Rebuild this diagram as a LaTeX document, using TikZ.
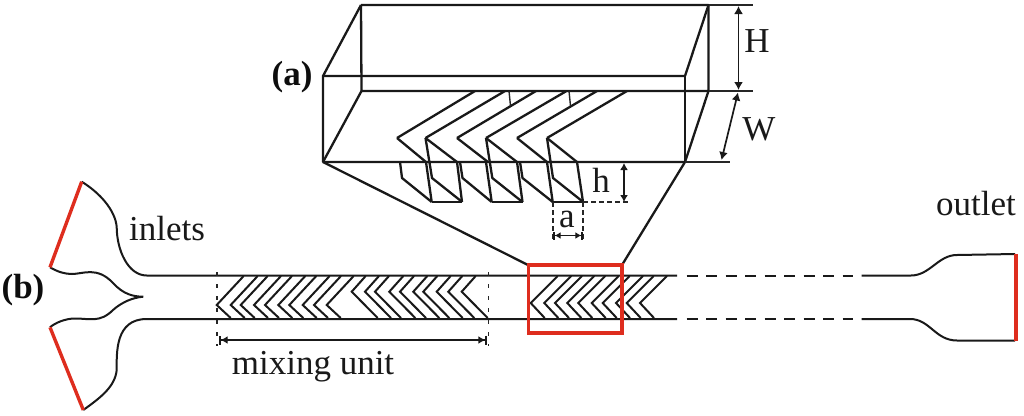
\documentclass[tikz,border=0pt]{standalone}
\usepackage{fontspec}
\setmainfont{Liberation Serif}
\usetikzlibrary{arrows.meta}
\definecolor{redline}{RGB}{222,45,30}
\tikzset{
  boxline/.style={line width=2.3pt,black!90,line join=round},
  thinline/.style={line width=1.4pt,black!85},
  channel/.style={line width=2pt,black!90},
  redbar/.style={line width=3.4pt,redline},
  guide/.style={line width=1.6pt,black!85,dash pattern=on 4pt off 8pt},
  dimtip/.style={line width=1.7pt,black!90},
  lab/.style={font=\fontsize{35}{37}\selectfont,inner sep=0pt,text=black!90},
  blab/.style={font=\fontsize{35}{37}\selectfont\bfseries,inner sep=0pt,text=black!95}
}
\begin{document}
\begin{tikzpicture}[x=1pt,y=-1pt]
\useasboundingbox (0,0) rectangle (1024,415);
% --- (a) box
\draw[boxline] (361,5) -- (708.5,5) -- (708.5,91) -- (361.5,91) -- (361,5);
\draw[boxline] (361,5) -- (323,76) -- (685,76) -- (708.5,5);
\draw[boxline] (323,76) -- (323,162) -- (685,162) -- (708.5,91);
\draw[boxline] (685,76) -- (685,162);
\draw[boxline] (323,162) -- (361.5,91);
% funnel
\draw[boxline] (323,162) -- (528,265);
\draw[boxline] (685,162) -- (622,265);
% ribs
\foreach \tx/\ty in {397/475,425.5/505,457/536,486/566.5,517/597,547/627}{
  \draw[boxline] (\tx,138) -- (\ty,91);
}
\foreach \tx/\ty in {397/426,425.5/457,457/488,486/517,517/547,547/577}{
  \draw[boxline] (\tx,138) -- (\ty,162);
}
\foreach \xa/\xb in {425.5/432,486/492.3,547/553}{
  \draw[boxline] (\xa,138) -- (\xb,178) -- ({\xb+30.2},202);
}
\foreach \xa/\xb in {457/462,517/522.5,577/583,426/431.7,486/491.7,547/552.7}{
  \draw[boxline] (\xa,162) -- (\xb,202);
}
\draw[boxline] (431.7,202) -- (462,202);
\draw[boxline] (491.7,202) -- (522.5,202);
\draw[boxline] (552.7,202) -- (583,202);
\draw[boxline] (400,162) -- (402,178) -- (431.7,202);
\draw[boxline] (460,162) -- (462.5,178) -- (491.7,202);
\draw[boxline] (520,162) -- (522.5,178) -- (552.7,202);
\draw[thinline] (509,91) -- (510.5,106);
\draw[thinline] (569,91) -- (570.5,106);
% extensions and dimensions
\draw[thinline] (708.5,5) -- (753,5);
\draw[thinline] (708.5,91) -- (753,91);
\draw[thinline] (685,162) -- (730,162);
\draw[dimtip,{Latex[length=8pt,width=9pt]}-{Latex[length=8pt,width=9pt]}] (738.5,6) -- (738.5,90);
\draw[dimtip,{Latex[length=8pt,width=9pt]}-{Latex[length=8pt,width=9pt]}] (738,92.5) -- (721.5,160);
\draw[dimtip,{Latex[length=7pt,width=8pt]}-{Latex[length=7pt,width=8pt]}] (624,163) -- (624,202);
\draw[thinline,dash pattern=on 5pt off 3pt] (583,202) -- (628,202);
\draw[thinline,dash pattern=on 5pt off 3pt] (553,202) -- (553,239);
\draw[thinline,dash pattern=on 5pt off 3pt] (583,202) -- (583,239);
\draw[dimtip,{Bar[width=8pt,length=1pt]Latex[length=6pt,width=7pt]}-{Latex[length=6pt,width=7pt]Bar[width=8pt,length=1pt]}] (553,235.5) -- (583,235.5);
% --- (b) inlets
\draw[channel] (81.7,181.7) .. controls (100,193) and (115,210) .. (116.7,226.7)
  .. controls (116.7,250) and (128,275.5) .. (146.7,275.5) -- (677,275.5);
\draw[channel] (50,267.3) .. controls (58,272) and (65,274) .. (72,274)
  .. controls (83,274) and (97,266) .. (113,283)
  .. controls (123,294) and (133,296.7) .. (143.3,296.7)
  .. controls (133,297.5) and (122,302) .. (113,310)
  .. controls (100,323) and (90,318.5) .. (75,318.5)
  .. controls (65,318.5) and (55,323) .. (50,327.3);
\draw[channel] (83.3,410) .. controls (100,398) and (115,387) .. (116.7,370)
  .. controls (116.7,353) and (115,319) .. (146.7,319) -- (677,319);
\draw[redbar] (81.7,181.7) -- (50,267.3);
\draw[redbar] (50,327.3) -- (83.3,410);
% dashed channel continuation
\draw[channel,dash pattern=on 11pt off 8.5pt] (686.7,275.5) -- (853,275.5);
\draw[channel,dash pattern=on 11pt off 8.5pt] (686.7,319) -- (853,319);
% outlet
\draw[channel] (861.7,275.5) -- (911,275.5) .. controls (930,275.5) and (938,255) .. (957,255) -- (1015,254);
\draw[channel] (861.7,319) -- (910,319) .. controls (930,319) and (935,340.5) .. (957,340.5) -- (1015,340.7);
\draw[redbar] (1016,254) -- (1016,341);
% chevrons
\foreach \t in {216.7,230.7,240.7,254,265,278.3,289.3,302.7,314,326.7}{
  \draw[channel] ({\t+27},276) -- (\t,305) -- ({\t+14},318);
}
\foreach \t in {351.7,365,375,389.3,400,413.3,423.3,436.7,448.3,461.7}{
  \draw[channel] ({\t+14},276) -- (\t,291.7) -- ({\t+26},318);
}
\foreach \t in {530.7,544.3,555,567.3,578.3,591.7,602.7,616,626.7,640}{
  \draw[channel] ({\t+27},276) -- (\t,303) -- ({\t+14},318);
}
% mixing unit
\draw[guide] (217,272) -- (217,346);
\draw[guide] (488.5,272) -- (488.5,346);
\draw[dimtip,{Bar[width=9pt,length=1pt]Latex[length=7pt,width=8pt]}-{Latex[length=7pt,width=8pt]Bar[width=9pt,length=1pt]}] (219,340) -- (487,340);
% red selection
\draw[line width=3.4pt,redline] (528.5,265) rectangle (622,333);
% labels
\node[blab] (la) at (292,77) {(a)};
\node[blab] (lb) at (23,290) {(b)};
\node[lab] (lH) at (757,41) {H};
\node[lab] (lW) at (759,129) {W};
\node[lab] (lh) at (601,180) {h};
\node[lab] (laa) at (567,219) {a};
\node[lab] (linlets) at (167,229) {inlets};
\node[lab] (loutlet) at (976,204) {outlet};
\node[lab] (lmix) at (313,367) {mixing unit};
\end{tikzpicture}
\end{document}
